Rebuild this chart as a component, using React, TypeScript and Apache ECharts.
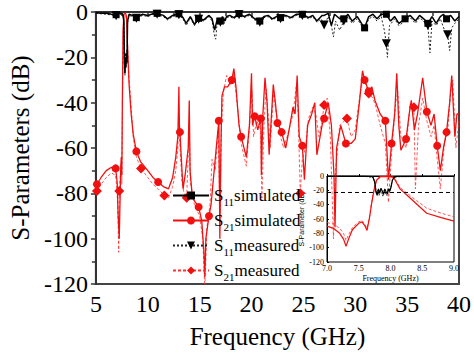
import React, { useEffect, useRef } from "react";
import * as echarts from "echarts";

const FONT = "Liberation Serif";

// [frequency GHz, dB, marker flag]
const s21Sim: number[][] = [
  [5.0,-77,0],[5.1,-76,1],[5.5,-73,0],[6.0,-70,0],[6.5,-68.5,0],[6.9,-69,1],[7.05,-75,0],[7.15,-90,0],[7.25,-100,0],[7.32,-85,0],[7.4,-68,0],[7.45,-64,0],[7.5,-72,0],[7.55,-40,0],[7.62,-8,0],[7.7,-1,0],[7.85,-0.5,0],[7.95,-2,0],[8.05,-15,0],[8.2,-32,0],[8.4,-45,0],[8.6,-54,0],[8.9,-61.5,1],[9.3,-66,0],[10,-70,0],[10.5,-73,0],[11,-75,1],[11.5,-77,0],[12.0,-78,0],[12.4,-73,0],[12.7,-64,0],[12.9,-55,0],[12.97,-40,0],[13.0,-33,0],[13.05,-50,0],[13.1,-53,1],[13.3,-70,0],[13.4,-78,0],[13.6,-72,0],[13.9,-60,0],[14.0,-39,0],[14.08,-70,0],[14.3,-82,0],[14.9,-86,1],[15.2,-92,0],[15.4,-105,0],[15.5,-117,0],[15.6,-100,0],[15.9,-90,1],[16.1,-85,0],[16.3,-75,0],[16.6,-60,0],[16.85,-48,1],[16.95,-100,0],[17.05,-60,0],[17.15,-37,0],[17.4,-33,0],[17.7,-33,0],[18.1,-30,1],[18.3,-25,0],[18.5,-33,0],[18.8,-50,0],[19.0,-55,1],[19.5,-64,0],[19.8,-50,0],[20.0,-27,0],[20.1,-50,0],[20.3,-46,1],[20.6,-52,0],[20.9,-47,1],[20.95,-72,0],[21.1,-45,0],[21.3,-29,0],[21.5,-40,0],[21.7,-63,0],[22.1,-32,0],[22.3,-40,0],[22.5,-49,1],[22.9,-53,1],[23.3,-60,0],[23.7,-50,0],[24.0,-42,0],[24.2,-45,0],[24.4,-28,0],[24.6,-55,0],[24.9,-59,1],[25.1,-74,0],[25.4,-50,0],[25.8,-45,0],[26.1,-40,0],[26.3,-63,0],[26.8,-50,0],[27.0,-47,1],[27.4,-40,0],[27.7,-50,0],[27.95,-72,0],[28.05,-95,0],[28.2,-60,0],[28.6,-50,0],[29.1,-58,1],[29.6,-58,0],[30.0,-56,0],[30.4,-40,0],[30.7,-26,0],[30.9,-30,1],[31.3,-35,1],[31.6,-33,0],[31.9,-39,0],[32.4,-45,0],[32.9,-48,1],[33.2,-74,0],[33.5,-58,1],[33.8,-45,0],[34.0,-27,0],[34.2,-50,0],[34.4,-61,0],[34.9,-56,1],[35.2,-45,0],[35.4,-39,0],[35.7,-52,0],[36.0,-45,0],[36.5,-29,0],[36.9,-44,1],[37.3,-50,0],[37.6,-45,0],[37.9,-59,1],[38.2,-70,0],[38.5,-60,0],[38.8,-53,1],[39.1,-40,0],[39.3,-28,0],[39.6,-55,0],[39.8,-45,0],[40.0,-45,0]
];

const s21Meas: number[][] = [
  [5.0,-79,0],[5.1,-79,1],[5.5,-76,0],[6.0,-73,0],[6.5,-71,0],[6.9,-72,0],[7.05,-79,0],[7.15,-95,0],[7.2,-106,0],[7.25,-79,1],[7.35,-72,0],[7.45,-67,0],[7.5,-76,0],[7.56,-45,0],[7.63,-10,0],[7.7,-2,0],[7.85,-1.5,0],[7.95,-3,0],[8.05,-14,0],[8.2,-29,0],[8.4,-42,0],[8.6,-55,0],[8.9,-64,0],[9.35,-69,1],[10,-73,0],[10.5,-76,0],[11,-78,0],[11.6,-81,1],[12.0,-82,0],[12.4,-77,0],[12.7,-70,0],[12.9,-60,0],[13.0,-45,0],[13.05,-55,0],[13.3,-75,0],[13.5,-80,0],[13.75,-82,1],[14.0,-50,0],[14.1,-75,0],[14.5,-85,0],[15.0,-90,0],[15.3,-100,0],[15.5,-122,0],[15.7,-95,0],[16.0,-85,0],[16.2,-65,0],[16.5,-70,0],[16.8,-52,0],[16.95,-90,0],[17.1,-50,0],[17.3,-35,0],[17.6,-28,0],[18.0,-32,0],[18.3,-27,0],[18.6,-40,0],[19.0,-58,0],[19.5,-68,0],[19.9,-45,0],[20.05,-35,0],[20.2,-55,0],[20.5,-48,0],[20.9,-52,0],[21.0,-82,0],[21.2,-50,0],[21.4,-34,0],[21.6,-45,0],[21.8,-60,0],[22.1,-36,0],[22.4,-45,0],[22.8,-55,0],[23.1,-60,0],[23.5,-54,0],[24.0,-45,0],[24.3,-33,0],[24.5,-45,0],[24.7,-80,1],[24.9,-65,0],[25.2,-60,0],[25.5,-47,0],[25.9,-42,0],[26.2,-45,0],[26.5,-55,0],[26.8,-48,0],[27.0,-41,1],[27.3,-38,0],[27.6,-55,0],[27.9,-100,0],[28.1,-70,0],[28.5,-50,0],[29.2,-47,1],[29.6,-55,0],[30.0,-52,0],[30.5,-35,0],[30.8,-29,0],[31.3,-36,1],[31.7,-38,0],[32.0,-42,0],[32.4,-50,0],[32.9,-58,0],[33.2,-84,0],[33.5,-62,0],[33.9,-40,0],[34.1,-35,0],[34.4,-55,0],[34.9,-60,0],[35.3,-40,0],[35.65,-42,1],[35.8,-78,0],[36.1,-50,0],[36.5,-38,0],[36.9,-48,0],[37.3,-55,0],[37.6,-50,0],[37.9,-65,0],[38.2,-78,0],[38.6,-58,0],[38.9,-53,0],[39.2,-35,0],[39.4,-30,0],[39.7,-60,0],[40.0,-48,0]
];

const s11Sim: number[][] = [
  [5.0,-0.3,0],[5.5,-0.5,0],[6.0,-0.6,0],[6.5,-1,0],[6.95,-1.2,1],[7.3,-0.5,0],[7.6,-1,0],[7.7,-4,0],[7.75,-22,0],[7.8,-27,0],[7.85,-20,0],[7.9,-24,0],[7.95,-18,0],[8.0,-22,0],[8.05,-4,0],[8.2,-1,0],[8.5,-1.5,0],[8.9,-2.5,1],[9.5,-1,0],[10,-1.5,0],[10.5,-0.8,0],[10.9,-0.6,1],[11.5,-1.5,0],[11.9,-3,0],[12.4,-1.5,0],[13.0,-0.8,1],[13.4,-2.5,0],[13.7,-5,0],[14.1,-2,0],[14.5,-5.5,0],[14.9,-2.8,1],[15.4,-3.5,0],[15.9,-1.5,0],[16.2,-3,0],[16.45,-8,0],[16.7,-3,0],[17.0,-4,1],[17.2,-2,0],[17.4,-4,0],[17.6,-2,0],[17.9,-1.5,0],[18.3,-2.5,0],[18.8,-0.7,1],[19.3,-2,0],[19.8,-1,0],[20.3,-3,0],[20.8,-4,1],[21.2,-2,0],[21.6,-1.5,0],[22.0,-3,0],[22.4,-2,0],[22.8,-2.5,1],[23.3,-1.5,0],[23.8,-2.5,0],[24.3,-1,0],[24.9,-1,1],[25.5,-2.5,0],[25.9,-1.5,0],[26.3,-4,0],[26.8,-1.5,0],[27.0,-1.5,0],[27.4,-0.6,0],[27.7,-6,0],[28.0,-1,0],[28.5,-3,0],[28.9,-3,1],[29.3,-1,0],[29.7,-4,0],[30.2,-2,0],[30.6,-5,0],[30.9,-7,1],[31.3,-2,0],[31.7,-1,0],[32.1,-3,0],[32.5,-1,0],[33.0,-1,1],[33.4,-4,0],[33.8,-2,0],[34.2,-5,0],[34.8,-3,1],[35.3,-1.5,0],[35.8,-4,0],[36.2,-1.5,0],[36.6,-3,0],[37.0,-5,1],[37.4,-2,0],[37.8,-5,0],[38.2,-2,0],[38.5,-1,0],[38.8,-3,1],[39.2,-1.5,0],[39.6,-4,0],[40.0,-2,0]
];

const s11Meas: number[][] = [
  [5.0,-0.5,0],[5.5,-0.8,0],[6.0,-1,0],[6.5,-1.3,0],[6.95,-1.6,1],[7.3,-0.8,0],[7.6,-1.5,0],[7.7,-5,0],[7.75,-20,0],[7.8,-28,0],[7.85,-18,0],[7.9,-25,0],[7.95,-17,0],[8.0,-23,0],[8.05,-5,0],[8.2,-1.5,0],[8.5,-2,0],[8.9,-2.8,1],[9.5,-1.5,0],[10,-2,0],[10.5,-1,0],[10.9,-1,1],[11.5,-2,0],[11.9,-3.5,0],[12.4,-2,0],[13.0,-1.2,1],[13.4,-3,0],[13.7,-6,0],[14.1,-2.5,0],[14.5,-6,0],[14.9,-3.2,1],[15.4,-4,0],[15.9,-2,0],[16.2,-4,0],[16.45,-11,0],[16.55,-12,0],[16.7,-4,0],[17.0,-4.5,1],[17.2,-2.5,0],[17.4,-5,0],[17.6,-2.5,0],[17.9,-2,0],[18.3,-3,0],[18.8,-1.2,1],[19.3,-2.5,0],[19.8,-1.5,0],[20.3,-3.5,0],[20.8,-4.5,1],[21.2,-2.5,0],[21.6,-2,0],[22.0,-3.5,0],[22.4,-2.5,0],[22.8,-3,1],[23.3,-2,0],[23.8,-3,0],[24.3,-1.5,0],[24.9,-1.5,1],[25.5,-3,0],[25.9,-2,0],[26.3,-4.5,0],[26.7,-3,0],[27.0,-5.7,1],[27.4,-2,0],[27.7,-6,0],[27.9,-11,0],[28.1,-4,0],[28.5,-8,0],[28.9,-4,1],[29.3,-2,0],[29.7,-5,0],[30.2,-3,0],[30.6,-6,0],[30.9,-8,0],[31.3,-3,0],[31.7,-2,0],[32.1,-4,0],[32.5,-2,0],[32.8,-8,0],[33.0,-14,1],[33.1,-20,0],[33.3,-6,0],[33.8,-3,0],[34.2,-6,0],[34.8,-4,0],[35.3,-2.5,0],[35.8,-5,0],[36.2,-2.5,0],[36.6,-4,0],[37.0,-6,1],[37.2,-18,0],[37.4,-4,0],[37.8,-6,0],[38.2,-3,0],[38.6,-8,0],[38.9,-10,1],[39.1,-17,0],[39.3,-7,0],[39.6,-5,0],[40.0,-3,0]
];

// inset (7–9 GHz)
const insetS11Sim: number[][] = [
  [7.0,0],[7.3,0],[7.6,-0.3],[7.72,-1],[7.75,-8],[7.77,-22],[7.79,-27],[7.81,-18],[7.83,-24],[7.85,-17],[7.87,-21],[7.89,-26],[7.91,-18],[7.93,-22],[7.95,-25],[7.97,-18],[7.99,-21],[8.01,-15],[8.03,-6],[8.06,-1.5],[8.1,-0.5],[8.5,0],[9.0,0]
];
const insetS11Meas: number[][] = [
  [7.0,0],[7.6,-0.5],[7.73,-2],[7.76,-12],[7.78,-25],[7.8,-20],[7.82,-27],[7.84,-19],[7.86,-23],[7.88,-28],[7.9,-20],[7.92,-24],[7.94,-27],[7.96,-19],[7.98,-23],[8.0,-18],[8.02,-8],[8.05,-2],[8.1,-1],[9.0,-0.5]
];
const insetS21Sim: number[][] = [
  [7.0,-70],[7.1,-73],[7.2,-80],[7.26,-88],[7.3,-98],[7.34,-88],[7.4,-75],[7.5,-66],[7.55,-64],[7.6,-70],[7.63,-76],[7.67,-58],[7.7,-40],[7.74,-20],[7.78,-6],[7.84,-1],[7.95,-0.5],[8.05,-2],[8.1,-10],[8.15,-18],[8.3,-30],[8.57,-52],[8.8,-58],[9.0,-63]
];
const insetS21Meas: number[][] = [
  [7.0,-65],[7.1,-67],[7.2,-73],[7.26,-80],[7.3,-90],[7.34,-82],[7.4,-72],[7.5,-64],[7.55,-62],[7.6,-68],[7.63,-73],[7.67,-56],[7.7,-38],[7.74,-18],[7.78,-5],[7.84,-0.5],[7.95,0],[8.05,-1.5],[8.1,-8],[8.15,-16],[8.3,-27],[8.57,-45],[8.8,-52],[9.0,-57]
];
const insetRef: number[][] = [[7.0,-23],[9.0,-23]];

const legendNames = ["S11simulated", "S21simulated", "S11measured", "S21measured"];

const RED = "#f01010";
const mk = (size: number) => (v: number[]) => (v[2] ? size : 0);

export default function App() {
  const ref = useRef<HTMLDivElement>(null);
  useEffect(() => {
    const chart = echarts.init(ref.current!, null, { renderer: "svg" });
    const axisText = { fontFamily: FONT, color: "#000" };
    const option: any = {
      animation: false,
      backgroundColor: "#fff",
      textStyle: { fontFamily: FONT },
      grid: [
        { left: 84, top: 10, width: 378, height: 276, show: true, borderColor: "#444", borderWidth: 2, backgroundColor: "transparent" },
        { left: 327, top: 176, width: 127, height: 86, show: true, borderColor: "#000", borderWidth: 1, backgroundColor: "transparent" },
      ],
      xAxis: [
        {
          type: "value", gridIndex: 0, min: 5, max: 40, interval: 5,
          axisLine: { lineStyle: { color: "#333", width: 2 } },
          axisTick: { length: 5, lineStyle: { color: "#333", width: 1.5 } },
          minorTick: { show: true, splitNumber: 2, length: 4, lineStyle: { color: "#333", width: 1.5 } },
          splitLine: { show: false },
          axisLabel: { ...axisText, fontSize: 24, margin: 8 },
          name: "Frequency (GHz)", nameLocation: "middle", nameGap: 40,
          nameTextStyle: { ...axisText, fontSize: 25 },
        },
        {
          type: "value", gridIndex: 1, min: 7, max: 9, interval: 0.5,
          axisLine: { lineStyle: { color: "#000", width: 1 } },
          axisTick: { length: 2, inside: true, lineStyle: { color: "#000" } },
          splitLine: { show: false },
          axisLabel: { ...axisText, fontSize: 8, margin: 2, formatter: (v: number) => v.toFixed(1) },
          name: "Frequency (GHz)", nameLocation: "middle", nameGap: 12,
          nameTextStyle: { ...axisText, fontSize: 8 },
        },
      ],
      yAxis: [
        {
          type: "value", gridIndex: 0, min: -120, max: 0, interval: 20,
          axisLine: { lineStyle: { color: "#333", width: 2 } },
          axisTick: { length: 5, lineStyle: { color: "#333", width: 1.5 } },
          minorTick: { show: true, splitNumber: 2, length: 4, lineStyle: { color: "#333", width: 1.5 } },
          splitLine: { show: false },
          axisLabel: { ...axisText, fontSize: 24, margin: 8 },
          name: "S-Parameters (dB)", nameLocation: "middle", nameGap: 56,
          nameTextStyle: { ...axisText, fontSize: 25 },
        },
        {
          type: "value", gridIndex: 1, min: -120, max: 0, interval: 20,
          axisLine: { lineStyle: { color: "#000", width: 1 } },
          axisTick: { length: 2, inside: true, lineStyle: { color: "#000" } },
          splitLine: { show: false },
          axisLabel: { ...axisText, fontSize: 8, margin: 3 },
          name: "S-Parameter (dB)", nameLocation: "middle", nameGap: 17,
          nameTextStyle: { color: "#000", fontSize: 7, fontFamily: "Liberation Sans" },
        },
      ],
      legend: {
        data: legendNames,
        orient: "vertical",
        left: 172, top: 184,
        padding: 0,
        itemWidth: 36, itemHeight: 10, itemGap: 2,
        formatter: (name: string) => `{m|S}{s|${name.slice(1, 3)}}{m|${name.slice(3)}}`,
        textStyle: {
          fontFamily: FONT,
          rich: {
            m: { fontFamily: FONT, fontSize: 17, color: "#000", lineHeight: 20, verticalAlign: "middle" },
            s: { fontFamily: FONT, fontSize: 11, color: "#000", lineHeight: 20, verticalAlign: "middle", padding: [12, 0, 0, 0] },
          },
        },
      },
      series: [
        {
          name: "S21measured", type: "line", xAxisIndex: 0, yAxisIndex: 0, data: s21Meas,
          symbol: "diamond", symbolSize: mk(10), showAllSymbol: true,
          lineStyle: { color: "#ff3030", width: 0.8, type: [3, 2] }, itemStyle: { color: RED },
          z: 2,
        },
        {
          name: "S21simulated", type: "line", xAxisIndex: 0, yAxisIndex: 0, data: s21Sim,
          symbol: "circle", symbolSize: mk(8), showAllSymbol: true,
          lineStyle: { color: RED, width: 1.3 }, itemStyle: { color: RED },
          z: 3,
        },
        {
          name: "S11measured", type: "line", xAxisIndex: 0, yAxisIndex: 0, data: s11Meas,
          symbol: "triangle", symbolRotate: 180, symbolSize: mk(9), showAllSymbol: true,
          lineStyle: { color: "#222", width: 1, type: [2, 2] }, itemStyle: { color: "#000" },
          z: 4,
        },
        {
          name: "S11simulated", type: "line", xAxisIndex: 0, yAxisIndex: 0, data: s11Sim,
          symbol: "rect", symbolSize: mk(7), showAllSymbol: true,
          lineStyle: { color: "#000", width: 1.5 }, itemStyle: { color: "#000" },
          z: 5,
        },
        {
          name: "insetS21Meas", type: "line", xAxisIndex: 1, yAxisIndex: 1, data: insetS21Meas,
          showSymbol: false, lineStyle: { color: "#ff3030", width: 0.8, type: [3, 2] }, z: 6,
        },
        {
          name: "insetS21Sim", type: "line", xAxisIndex: 1, yAxisIndex: 1, data: insetS21Sim,
          showSymbol: false, lineStyle: { color: RED, width: 1.2 }, z: 6,
        },
        {
          name: "insetRef", type: "line", xAxisIndex: 1, yAxisIndex: 1, data: insetRef,
          showSymbol: false, lineStyle: { color: "#000", width: 1, type: [4, 3] }, z: 6,
        },
        {
          name: "insetS11Meas", type: "line", xAxisIndex: 1, yAxisIndex: 1, data: insetS11Meas,
          showSymbol: false, lineStyle: { color: "#000", width: 0.8, type: [2, 1] }, z: 7,
        },
        {
          name: "insetS11Sim", type: "line", xAxisIndex: 1, yAxisIndex: 1, data: insetS11Sim,
          showSymbol: false, lineStyle: { color: "#000", width: 1.2 }, z: 7,
        },
      ],
    };
    chart.setOption(option);
    return () => chart.dispose();
  }, []);
  return (
    <div
      ref={ref}
      style={{ position: "fixed", left: 0, top: 0, width: 474, height: 354, background: "#fff" }}
    />
  );
}
